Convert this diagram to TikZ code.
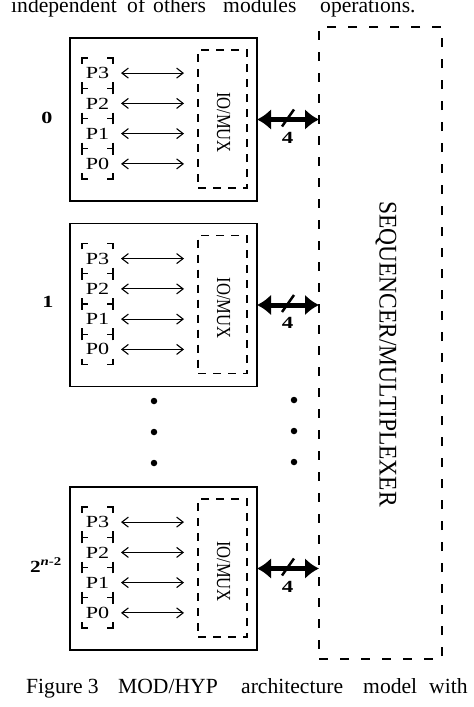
\documentclass[tikz,border=0pt]{standalone}
\usepackage{fontspec}
\setmainfont{Liberation Serif}
\usetikzlibrary{arrows.meta,calc}
\newcommand{\pcorners}[1]{%
  \draw[cornerline] ($(#1.north west)+(0,6)$) -- (#1.north west) -- ++(6,0);
  \draw[cornerline] ($(#1.north east)+(0,6)$) -- (#1.north east) -- ++(-6,0);
  \draw[cornerline] ($(#1.south west)+(0,-6)$) -- (#1.south west) -- ++(6,0);
  \draw[cornerline] ($(#1.south east)+(0,-6)$) -- (#1.south east) -- ++(-6,0);
}
\newcommand{\wide}[2]{\scalebox{#1}[1]{#2}}
\begin{document}
\begin{tikzpicture}[x=1pt,y=-1pt,
  module/.style={draw,line width=1.4pt,minimum width=187pt,minimum height=163pt,inner sep=0,outer sep=0},
  iobox/.style={draw,line width=1.4pt,dash pattern=on 8pt off 7pt,minimum width=49pt,minimum height=138pt,inner sep=0,outer sep=0},
  seqbox/.style={draw,line width=1.4pt,dash pattern=on 9pt off 12pt,minimum width=123pt,minimum height=632pt,inner sep=0,outer sep=0},
  cell/.style={minimum width=31pt,minimum height=30.25pt,inner sep=0,outer sep=0,font=\fontsize{17}{18}\selectfont},
  iolabel/.style={inner sep=0,font=\fontsize{16.6}{18}\selectfont},
  seqlabel/.style={inner sep=0,font=\fontsize{23.5}{26}\selectfont},
  cornerline/.style={line width=1.3pt},
  thinarrow/.style={line width=1.1pt,{Straight Barb[length=6.5pt,width=10pt]}-{Straight Barb[length=6.5pt,width=10pt]},shorten <=8pt,shorten >=14pt},
  busarrow/.style={line width=5pt,{Latex[length=14pt,width=21pt]}-{Latex[length=14pt,width=21pt]}},
  slash/.style={line width=2.5pt},
  digit/.style={inner sep=0,font=\fontsize{17}{19}\selectfont\bfseries},
  dot/.style={circle,fill,inner sep=0,minimum size=6.5pt},
  body/.style={inner sep=0,anchor=base west,font=\fontsize{21.6}{26}\selectfont}
]
\useasboundingbox (0,0) rectangle (474,707);
\clip (0,0) rectangle (474,707);
% top partial text line
\node[body,anchor=base east] (t1) at (117,12) {independent};
\node[body] (t2) at (127,12) {of};
\node[body] (t3) at (153,12) {others};
\node[body] (t4) at (223,12) {modules};
\node[body] (t5) at (320,12) {operations.};
% sequencer
\node[seqbox] (seq) at (380.5,343) {};
\node[seqlabel,rotate=-90] (seql) at (386,354) {\scalebox{1}[1.08]{SEQUENCER/MULTIPLEXER}};
% modules
\foreach \i/\cy in {0/119.5,1/305,2/568.5}{
  \node[module] (m\i) at (163.5,\cy) {};
  \node[iobox] (io\i) at (222.5,\cy-0.5) {};
  \node[iolabel,rotate=-90] (iol\i) at (223.5,\cy+3) {\scalebox{1}[1.2]{IO/MUX}};
  \foreach \k/\dy in {3/-46.4,2/-16.1,1/14.1,0/44.4}{
    \node[cell] (p\i\k) at (97.5,\cy+\dy) {\wide{1.3}{P\k}};
    \pcorners{p\i\k}
    \draw[thinarrow] (p\i\k.east) -- (p\i\k.east -| io\i.west);
  }
  \draw[busarrow] (m\i.east) -- (m\i.east -| seq.west);
  \node[digit] (w\i) at (287.5,\cy+18) {\wide{1.35}{4}};
  \draw[slash] ($(m\i.east)!0.5!(m\i.east -| seq.west)+(-6,7)$) -- ++(12,-17);
}
% module labels
\node[digit] (l0) at (47,118) {\wide{1.3}{0}};
\node[digit] (l1) at (48,302) {\wide{1.3}{1}};
\node[digit] (l2) at (46,565) {\wide{1.25}{2\textsuperscript{\textit{n}-2}}};
% dots
\node[dot] (dl1) at (154,401) {};
\node[dot] (dl2) at (154,432) {};
\node[dot] (dl3) at (154,463) {};
\node[dot] (dr1) at (294,400) {};
\node[dot] (dr2) at (294,431) {};
\node[dot] (dr3) at (294,462) {};
% caption
\node[body] (c1) at (26,693) {Figure 3};
\node[body] (c2) at (118,693) {MOD/HYP};
\node[body] (c3) at (241,693) {architecture};
\node[body] (c4) at (363,693) {model};
\node[body] (c5) at (429,693) {with};
\end{tikzpicture}
\end{document}
